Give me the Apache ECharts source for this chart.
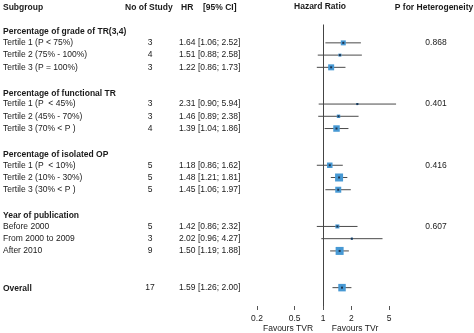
<!DOCTYPE html>
<html>
<head>
<meta charset="utf-8">
<script src="https://cdn.jsdelivr.net/npm/echarts@6/dist/echarts.min.js"></script>
<style>
  html, body { margin: 0; padding: 0; background: #fff; }
  #chart { width: 474px; height: 333px; }
</style>
</head>
<body>
<div id="chart"></div>
<script>
// Subgroup rows, top to bottom ('' = spacer row)
const rowLabels = [
  'Percentage of grade of TR(3,4)',
  'Tertile 1 (P < 75%)',
  'Tertile 2 (75% - 100%)',
  'Tertile 3 (P = 100%)',
  '',
  'Percentage of functional TR',
  'Tertile 1 (P  < 45%)',
  'Tertile 2 (45% - 70%)',
  'Tertile 3 (70% < P )',
  '',
  'Percentage of isolated OP',
  'Tertile 1 (P  < 10%)',
  'Tertile 2 (10% - 30%)',
  'Tertile 3 (30% < P )',
  '',
  'Year of publication',
  'Before 2000',
  'From 2000 to 2009',
  'After 2010',
  '',
  '',
  'Overall',
  ''
];
const boldRows = ['Percentage of grade of TR(3,4)', 'Percentage of functional TR',
  'Percentage of isolated OP', 'Year of publication', 'Overall'];

// Per-row estimates (null = no estimate on that row)
const studies = [null, 3, 4, 3, null, null, 3, 3, 4, null, null, 5, 5, 5, null, null, 5, 3, 9, null, null, 17, null];
const hr      = [null, 1.64, 1.51, 1.22, null, null, 2.31, 1.46, 1.39, null, null, 1.18, 1.48, 1.45, null, null, 1.42, 2.02, 1.50, null, null, 1.59, null];
const ciLow   = [null, 1.06, 0.88, 0.86, null, null, 0.90, 0.89, 1.04, null, null, 0.86, 1.21, 1.06, null, null, 0.86, 0.96, 1.19, null, null, 1.26, null];
const ciHigh  = [null, 2.52, 2.58, 1.73, null, null, 5.94, 2.38, 1.86, null, null, 1.62, 1.81, 1.97, null, null, 2.32, 4.27, 1.88, null, null, 2.00, null];
const weight  = [null, 25, 9, 36, null, null, 4, 12, 42, null, null, 30, 64, 36, null, null, 16, 4, 64, null, null, 56, null];
const pHet    = [null, '0.868', null, null, null, null, '0.401', null, null, null, null, '0.416', null, null, null, null, '0.607', null, null, null, null, null, null];

// Hazard-ratio axis tick values
const hrTicks = [0.2, 0.5, 1, 2, 5];

const FONT = '"Liberation Sans", Arial, Helvetica, sans-serif';
const FS = 8.5;
const TXT = '#1a1a1a';
const BOX = '#4799d4';

const lg = v => Math.log10(v);

const estData = [];
const textData = [];
rowLabels.forEach((lab, i) => {
  if (hr[i] != null) {
    estData.push([lg(hr[i]), i, lg(ciLow[i]), lg(ciHigh[i]), weight[i]]);
    textData.push({ value: [0, i], studies: studies[i],
      hrText: hr[i].toFixed(2) + ' [' + ciLow[i].toFixed(2) + '; ' + ciHigh[i].toFixed(2) + ']',
      p: pHet[i] });
  }
});

const chart = echarts.init(document.getElementById('chart'), null, { renderer: 'canvas' });

chart.setOption({
  animation: false,
  backgroundColor: '#fff',
  textStyle: { fontFamily: FONT },
  grid: { left: 257, right: 85, top: 24.5, bottom: 27, containLabel: false },
  xAxis: {
    type: 'value',
    min: lg(0.2),
    max: lg(5),
    splitLine: { show: false },
    axisLine: { lineStyle: { color: '#555', width: 1 } },
    axisTick: { show: true, length: 4, customValues: hrTicks.map(lg), lineStyle: { color: '#555' } },
    axisLabel: {
      customValues: hrTicks.map(lg),
      formatter: v => String(Math.round(Math.pow(10, v) * 10) / 10),
      color: TXT, fontSize: FS, fontFamily: FONT, margin: 8
    }
  },
  yAxis: {
    type: 'category',
    inverse: true,
    data: rowLabels.map((_, i) => String(i)),
    axisLine: { show: false },
    axisTick: { show: false },
    splitLine: { show: false },
    axisLabel: {
      interval: 0,
      align: 'left',
      margin: 254,
      color: TXT,
      fontSize: FS,
      fontFamily: FONT,
      formatter: (val, idx) => {
        const t = rowLabels[idx];
        if (!t) return '';
        return boldRows.includes(t) ? '{b|' + t + '}' : t;
      },
      rich: { b: { fontWeight: 'bold', fontSize: FS, fontFamily: FONT, color: TXT, padding: [3, 0, 0, 0] } }
    }
  },
  series: [
    {
      // reference line at HR = 1
      type: 'scatter',
      data: estData.map(d => [d[0], d[1]]),
      symbolSize: 0,
      silent: true,
      markLine: {
        silent: true,
        symbol: 'none',
        label: { show: false },
        lineStyle: { color: '#444', width: 1, type: 'solid' },
        data: [{ xAxis: 0 }]
      }
    },
    {
      // confidence intervals and weighted boxes
      type: 'custom',
      data: estData,
      encode: { x: 0, y: 1 },
      z: 3,
      renderItem: (params, api) => {
        const c = api.coord([api.value(0), api.value(1)]);
        const lo = api.coord([api.value(2), api.value(1)]);
        const hi = api.coord([api.value(3), api.value(1)]);
        const s = Math.sqrt(api.value(4));
        return {
          type: 'group',
          children: [
            { type: 'line', shape: { x1: lo[0], y1: lo[1], x2: hi[0], y2: hi[1] },
              style: { stroke: '#4a4a4a', lineWidth: 1 } },
            { type: 'rect', shape: { x: c[0] - s / 2, y: c[1] - s / 2, width: s, height: s },
              style: { fill: BOX } },
            { type: 'rect', shape: { x: c[0] - 1, y: c[1] - 1, width: 2, height: 2 },
              style: { fill: '#1e3550' } }
          ]
        };
      }
    },
    {
      // study counts, HR text and heterogeneity p-values
      type: 'custom',
      data: textData,
      encode: { x: 0, y: 1 },
      clip: false,
      renderItem: (params, api) => {
        const d = textData[params.dataIndex];
        const y = api.coord([0, api.value(1)])[1];
        const base = { fontSize: FS, fontFamily: FONT, fill: TXT, verticalAlign: 'middle' };
        const kids = [
          { type: 'text', style: Object.assign({ x: 150, y: y, text: String(d.studies), align: 'center' }, base) },
          { type: 'text', style: Object.assign({ x: 179, y: y, text: d.hrText, align: 'left' }, base) }
        ];
        if (d.p) kids.push({ type: 'text', style: Object.assign({ x: 436, y: y, text: d.p, align: 'center' }, base) });
        return { type: 'group', children: kids };
      }
    }
  ],
  graphic: [
    { type: 'text', left: 3, top: 3, style: { text: 'Subgroup', font: 'bold 8.5px ' + FONT, fill: TXT } },
    { type: 'text', left: 125, top: 3, style: { text: 'No of Study', font: 'bold 8.5px ' + FONT, fill: TXT } },
    { type: 'text', left: 181, top: 3, style: { text: 'HR', font: 'bold 8.5px ' + FONT, fill: TXT } },
    { type: 'text', left: 203, top: 3, style: { text: '[95% CI]', font: 'bold 8.5px ' + FONT, fill: TXT } },
    { type: 'text', x: 320, y: 2, style: { text: 'Hazard Ratio', font: 'bold 8.5px ' + FONT, fill: TXT, align: 'center' } },
    { type: 'text', x: 434, y: 3, style: { text: 'P for Heterogeneity', font: 'bold 8.5px ' + FONT, fill: TXT, align: 'center' } },
    { type: 'text', x: 288, y: 324, style: { text: 'Favours TVR', font: '8.5px ' + FONT, fill: TXT, align: 'center' } },
    { type: 'text', x: 355, y: 324, style: { text: 'Favours TVr', font: '8.5px ' + FONT, fill: TXT, align: 'center' } }
  ]
});
</script>
</body>
</html>
